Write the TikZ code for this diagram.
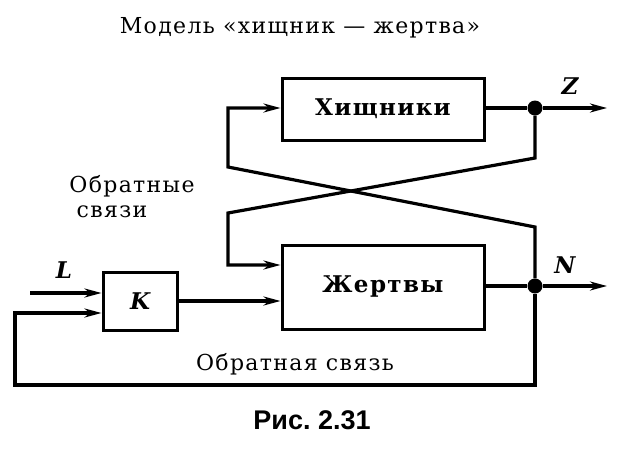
\documentclass[tikz,border=0pt]{standalone}
\usepackage{fontspec}
\setmainfont{DejaVu Serif}
\newfontfamily\serifm[LetterSpace=6]{DejaVu Serif}
\newfontfamily\sansb{Liberation Sans}
\usetikzlibrary{arrows.meta}
\newcommand{\szA}{\fontsize{22}{26}\selectfont}
\newcommand{\szB}{\fontsize{23}{27}\selectfont}
\begin{document}
\begin{tikzpicture}[x=1pt,y=-1pt,
  blk/.style={draw,line width=3pt,inner sep=0pt},
  ln/.style={line width=3.2pt},
  arr/.style={ln,-{Stealth[length=17pt,width=9pt]}},
  dot/.style={circle,fill,inner sep=0pt,minimum size=15pt}]
\useasboundingbox (0,0) rectangle (625,448);
\node (title) at (300,28) {\serifm\szA Модель «хищник — жертва»};
\node[blk,minimum width=202pt,minimum height=62pt] (h) at (383,109) {\serifm\szB\bfseries Хищники};
\node[blk,minimum width=202pt,minimum height=84pt] (zh) at (383,287) {\serifm\szB\bfseries Жертвы};
\node[blk,minimum width=74pt,minimum height=58pt] (k) at (140,301) {\serifm\szB\bfseries\itshape K};
\node[dot] (d1) at (535,108) {};
\node[dot] (d2) at (535,286) {};
\coordinate (zo) at (607,108);
\coordinate (no) at (607,286);
\coordinate (lin) at (30,293);
\draw[ln] (h.east|-d1) -- (d1);
\draw[ln] (zh.east|-d2) -- (d2);
\draw[arr] (d1) -- (zo);
\draw[arr] (d2) -- (no);
\node (zl) at (570,86) {\serifm\szB\bfseries\itshape Z};
\node (nl) at (565,265) {\serifm\szB\bfseries\itshape N};
\node (ll) at (64,270) {\serifm\szB\bfseries\itshape L};
\draw[arr] (d2) -- (535,227) -- (228,167) -- (228,108) -- (h.west|-d1);
\draw[arr] (d1) -- (535,158) -- (228,213) -- (228,265) -- (zh.west|-0,265);
\draw[arr] (k.east|-0,301) -- (zh.west|-0,301);
\draw[arr] (lin) -- (k.west|-lin);
\draw[arr] (d2) -- (535,385) -- (15,385) -- (15,313) -- (k.west|-0,313);
\node (ob1) at (132,186) {\serifm\szA Обратные};
\node (ob2) at (112,212) {\serifm\szA связи};
\node (ob3) at (295,364) {\serifm\szA Обратная связь};
\node (cap) at (312,420) {\sansb\fontsize{27}{30}\selectfont\bfseries Рис.\ 2.31};
\end{tikzpicture}
\end{document}
